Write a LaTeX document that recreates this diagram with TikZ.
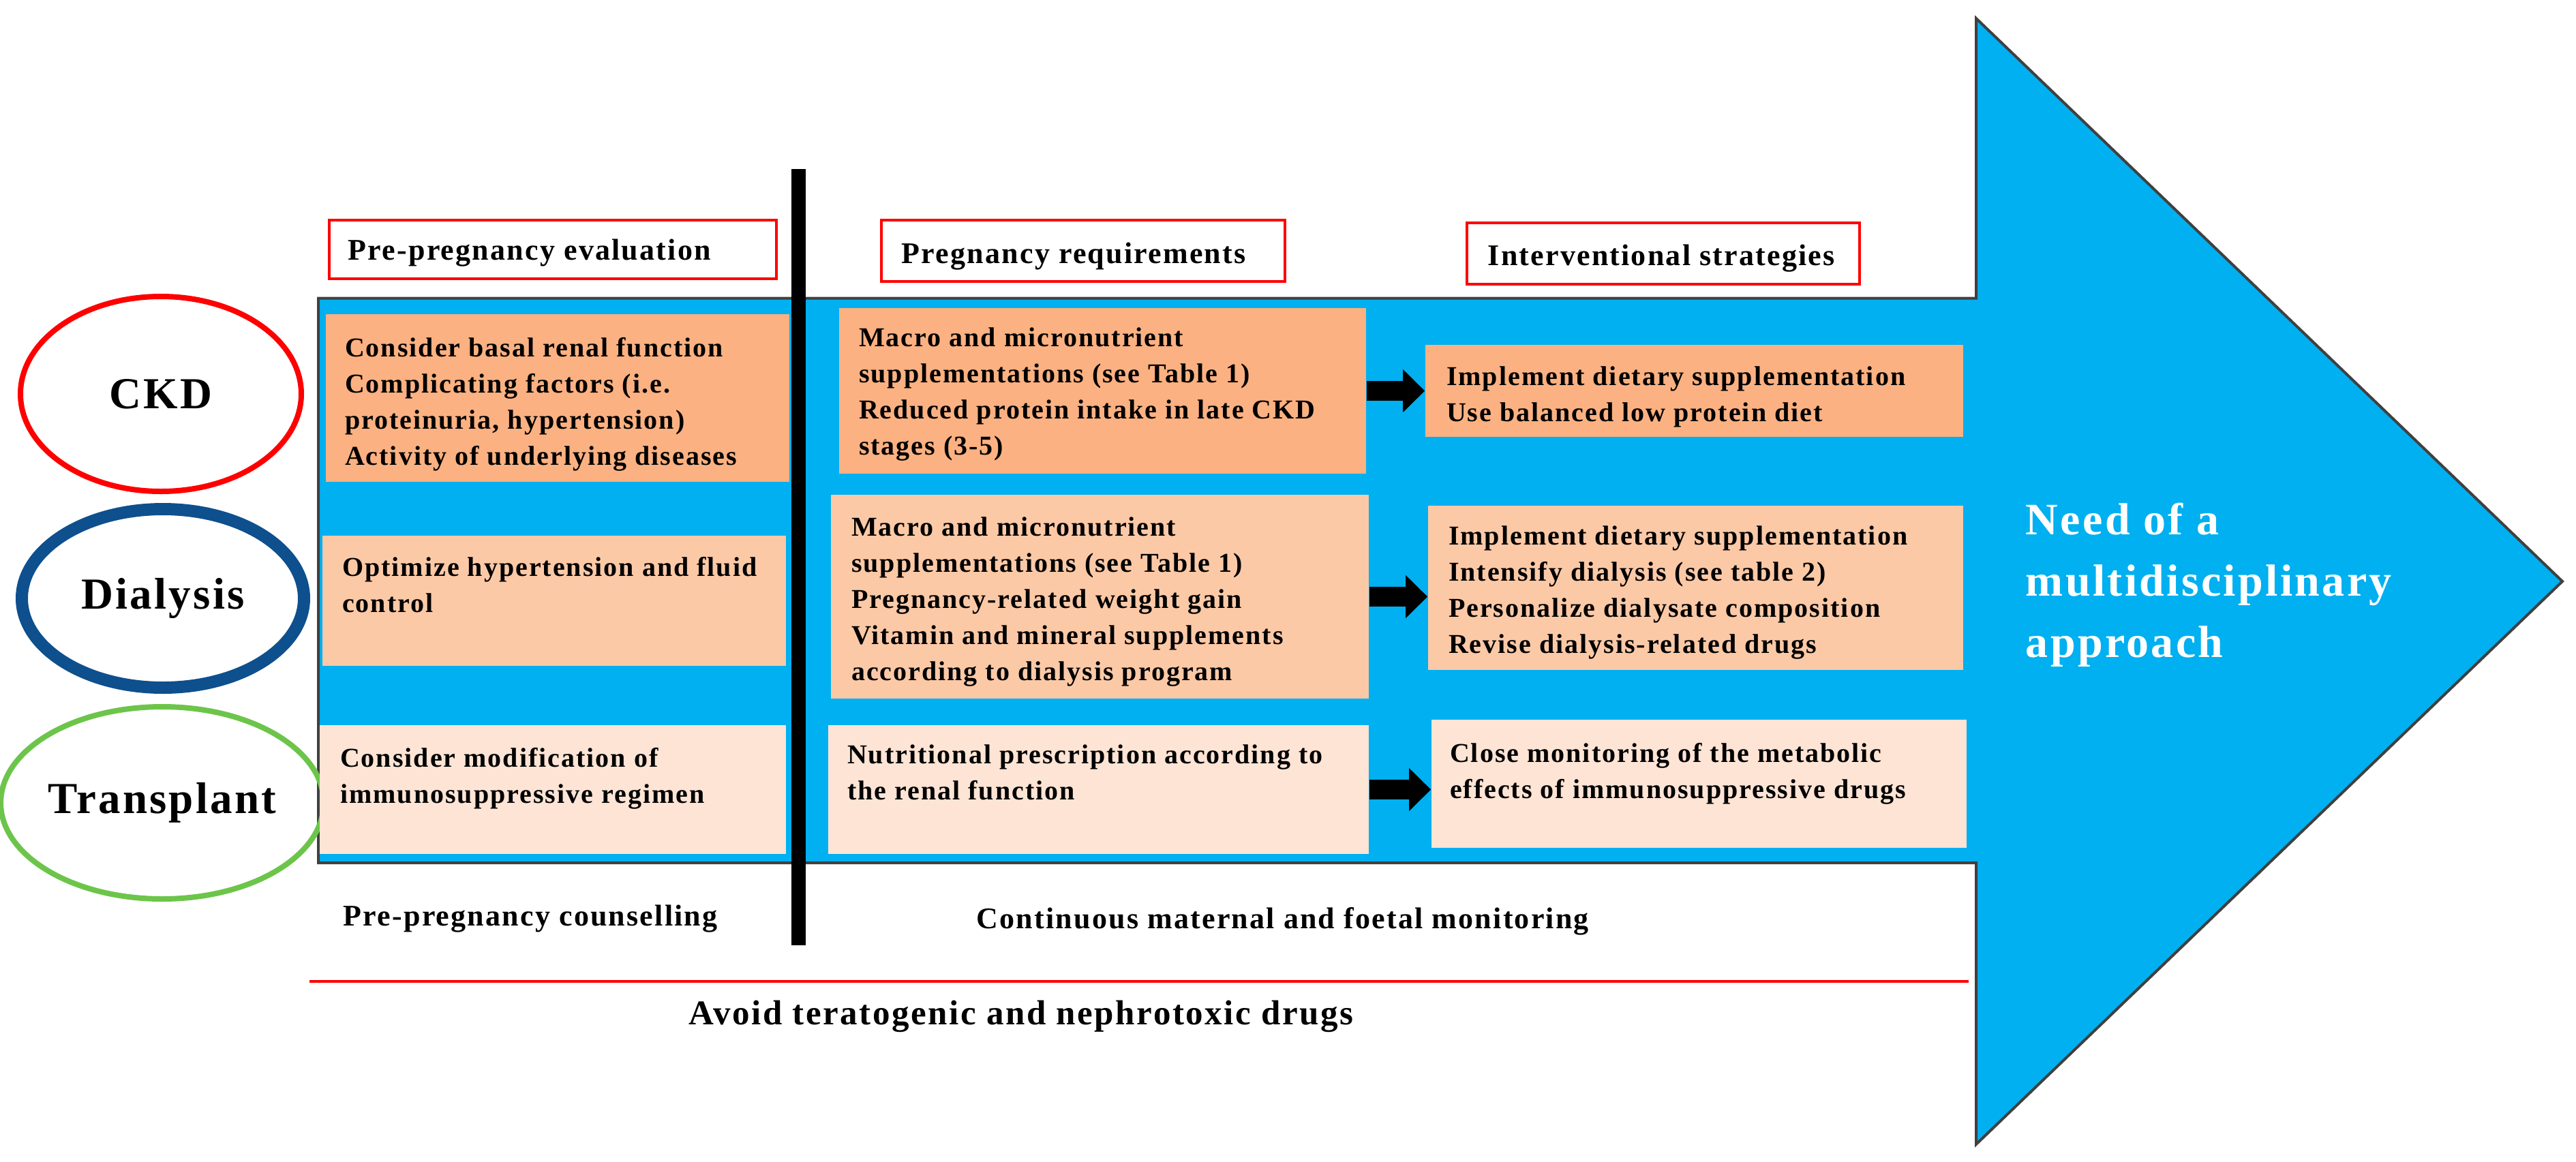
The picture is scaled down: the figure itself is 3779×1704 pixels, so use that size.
\documentclass[tikz,border=0pt]{standalone}
\usepackage{fontspec}
\setmainfont{Liberation Serif}[LetterSpace=5]
\usetikzlibrary{shapes.geometric,arrows.meta,fit}
\definecolor{bodyblue}{HTML}{00B0F0}
\definecolor{ckfill}{HTML}{FBB181}
\definecolor{diafill}{HTML}{FCC9A7}
\definecolor{txfill}{HTML}{FDE4D5}
\definecolor{diablue}{HTML}{0E4F8E}
\definecolor{txgreen}{HTML}{6CC54A}
\begin{document}
\begin{tikzpicture}[x=0.25pt,y=-0.25pt,
  bigarrow/.style={fill=bodyblue,draw=black!75,line width=1pt,line join=miter},
  cellbox/.style={inner sep=0pt,draw=none},
  celltxt/.style={anchor=north west,inner sep=0pt,align=left,font=\bfseries\fontsize{10}{13.25}\selectfont},
  hdrbox/.style={draw=red,line width=1pt,fill=white,inner sep=0pt},
  hdrtxt/.style={anchor=base west,inner sep=0pt,font=\bfseries\fontsize{11}{13}\selectfont},
  grp/.style={ellipse,inner sep=0pt,font=\bfseries\fontsize{16.25}{19}\selectfont},
  blockarrow/.style={line width=7.25pt,-{Triangle[length=8pt,width=15.25pt]}},
  bottxt/.style={anchor=base west,inner sep=0pt,font=\bfseries\fontsize{11}{13}\selectfont}
]
\useasboundingbox (0,0) rectangle (3779,1704);

% big arrow
\draw[bigarrow] (467,437.5) -- (2899,437.5) -- (2899,27) -- (3759,853) -- (2899,1679) -- (2899,1266) -- (467,1266) -- cycle;

% group ellipses
\node[grp,draw=red,line width=2pt,minimum width=103pt,minimum height=71.5pt] (ckd) at (236,578) {CKD};
\node[grp,draw=diablue,line width=4.5pt,minimum width=103.5pt,minimum height=65.5pt] (dia) at (239,878) {Dialysis};
\node[grp,draw=txgreen,line width=2pt,minimum width=108pt,minimum height=70.5pt] (tx) at (238,1178) {Transplant};

% header boxes
\node[hdrbox,fit={(483,323) (1139,409)}] (h1) {};
\node[hdrtxt] (h1t) at (510,381) {Pre-pregnancy evaluation};
\node[hdrbox,fit={(1293,323) (1885,413)}] (h2) {};
\node[hdrtxt] (h2t) at (1322,386) {Pregnancy requirements};
\node[hdrbox,fit={(2152,327) (2728,417)}] (h3) {};
\node[hdrtxt] (h3t) at (2182,389) {Interventional strategies};

% column 1
\node[cellbox,fill=ckfill,fit={(478,461) (1158,707)}] (p1) {};
\node[celltxt] (p1t) at ([shift={(28,34)}]p1.north west) {Consider basal renal function\\Complicating factors (i.e.\\proteinuria, hypertension)\\Activity of underlying diseases};
\node[cellbox,fill=diafill,fit={(473,786) (1153,977)}] (p2) {};
\node[celltxt] (p2t) at ([shift={(29,31)}]p2.north west) {Optimize hypertension and fluid\\control};
\node[cellbox,fill=txfill,fit={(469,1064) (1153,1253)}] (p3) {};
\node[celltxt] (p3t) at ([shift={(30,33)}]p3.north west) {Consider modification of\\immunosuppressive regimen};

% column 2
\node[cellbox,fill=ckfill,fit={(1231,452) (2004,695)}] (q1) {};
\node[celltxt] (q1t) at ([shift={(29,29)}]q1.north west) {Macro and micronutrient\\supplementations (see Table 1)\\Reduced protein intake in late CKD\\stages (3-5)};
\node[cellbox,fill=diafill,fit={(1219,726) (2008,1025)}] (q2) {};
\node[celltxt] (q2t) at ([shift={(30,33)}]q2.north west) {Macro and micronutrient\\supplementations (see Table 1)\\Pregnancy-related weight gain\\Vitamin and mineral supplements\\according to dialysis program};
\node[cellbox,fill=txfill,fit={(1215,1064) (2008,1253)}] (q3) {};
\node[celltxt] (q3t) at ([shift={(28,29)}]q3.north west) {Nutritional prescription according to\\the renal function};

% column 3
\node[cellbox,fill=ckfill,fit={(2091,506) (2880,641)}] (r1) {};
\node[celltxt] (r1t) at ([shift={(31,32)}]r1.north west) {Implement dietary supplementation\\Use balanced low protein diet};
\node[cellbox,fill=diafill,fit={(2095,742) (2880,983)}] (r2) {};
\node[celltxt] (r2t) at ([shift={(30,30)}]r2.north west) {Implement dietary supplementation\\Intensify dialysis (see table 2)\\Personalize dialysate composition\\Revise dialysis-related drugs};
\node[cellbox,fill=txfill,fit={(2100,1056) (2885,1244)}] (r3) {};
\node[celltxt] (r3t) at ([shift={(27,34)}]r3.north west) {Close monitoring of the metabolic\\effects of immunosuppressive drugs};

% arrows
\draw[blockarrow] (q1.east) -- (q1.east -| r1.west);
\draw[blockarrow] (q2.east) -- (q2.east -| r2.west);
\draw[blockarrow] (q3.east) -- (q3.east -| r3.west);

% vertical divider
\coordinate (vt) at (1171.5,248);
\coordinate (vb) at (1171.5,1387);
\draw[line width=5.25pt] (vt) -- (vb);

% need text
\node[anchor=north west,inner sep=0pt,align=left,text=white,font=\bfseries\fontsize{16.5}{22.5}\selectfont] (need) at (2971,737) {Need of a\\multidisciplinary\\approach};

% bottom
\node[bottxt] (b1) at (503,1358) {Pre-pregnancy counselling};
\node[bottxt] (b2) at (1432,1362) {Continuous maternal and foetal monitoring};
\coordinate (rl) at (454,1440);
\coordinate (rr) at (2888,1440);
\draw[red,line width=1pt] (rl) -- (rr);
\node[bottxt,font=\bfseries\fontsize{12.75}{15}\selectfont] (b3) at (1010,1503) {Avoid teratogenic and nephrotoxic drugs};
\end{tikzpicture}
\end{document}
